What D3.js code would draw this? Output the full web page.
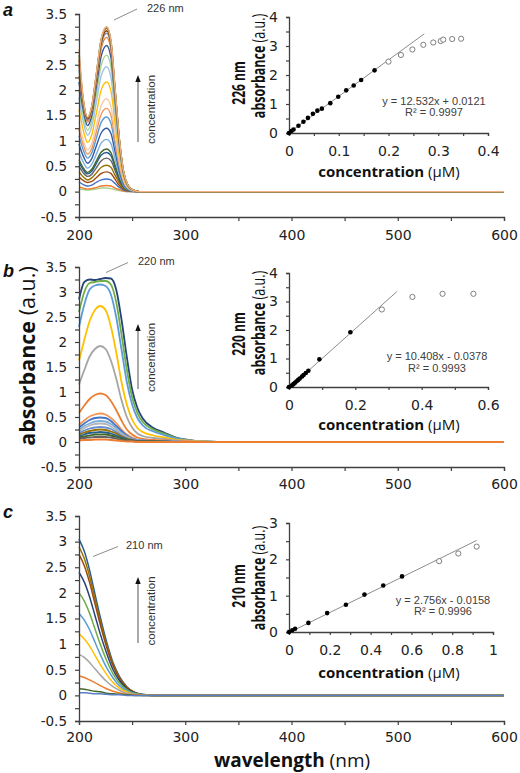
<!DOCTYPE html>
<html>
<head>
<meta charset="utf-8">
<script src="https://cdn.jsdelivr.net/npm/d3@7"></script>
<style>
  body { margin: 0; background: #fff; }
  svg { display: block; }
</style>
</head>
<body>
<svg></svg>
<script>
// ---------- data ----------

// main axes (all three spectra panels)
const wavelengthTicks = [200, 300, 400, 500, 600];
const wavelengthMinor = [250, 350, 450, 550];
const absTicks = [-0.5, 0, 0.5, 1, 1.5, 2, 2.5, 3, 3.5];
const absMinor = [-0.25, 0.25, 0.75, 1.25, 1.75, 2.25, 2.75, 3.25];

// panel a spectra (lowest -> highest concentration)
const wlA = [200, 204, 208, 212, 216, 221, 226, 230, 234, 238, 242, 246, 251, 257, 600];
const spectraA = [
  [0.05, 0.04, 0.03, 0.04, 0.05, 0.07, 0.07, 0.06, 0.04, 0.02, 0.01, 0, 0, 0, 0],
  [0.09, 0.07, 0.05, 0.06, 0.08, 0.11, 0.12, 0.11, 0.07, 0.04, 0.01, 0, 0, 0, 0],
  [0.19, 0.14, 0.11, 0.13, 0.18, 0.23, 0.25, 0.23, 0.16, 0.08, 0.03, 0.01, 0, 0, 0],
  [0.29, 0.22, 0.18, 0.2, 0.27, 0.36, 0.39, 0.36, 0.24, 0.12, 0.05, 0.02, 0, 0, 0],
  [0.39, 0.29, 0.23, 0.27, 0.36, 0.48, 0.52, 0.48, 0.32, 0.17, 0.06, 0.02, 0.01, 0, 0],
  [0.5, 0.37, 0.3, 0.34, 0.46, 0.61, 0.66, 0.61, 0.41, 0.21, 0.08, 0.03, 0.01, 0, 0],
  [0.58, 0.43, 0.35, 0.4, 0.54, 0.72, 0.77, 0.71, 0.48, 0.25, 0.09, 0.03, 0.01, 0, 0],
  [0.63, 0.47, 0.38, 0.44, 0.59, 0.78, 0.84, 0.77, 0.52, 0.27, 0.1, 0.03, 0.01, 0, 0],
  [0.77, 0.58, 0.46, 0.54, 0.72, 0.96, 1.03, 0.95, 0.64, 0.33, 0.12, 0.04, 0.01, 0, 0],
  [0.94, 0.7, 0.56, 0.65, 0.88, 1.16, 1.25, 1.15, 0.78, 0.4, 0.15, 0.05, 0.01, 0, 0],
  [1.1, 0.82, 0.66, 0.76, 1.03, 1.37, 1.47, 1.35, 0.91, 0.47, 0.18, 0.06, 0.01, 0, 0],
  [1.23, 0.92, 0.74, 0.85, 1.15, 1.53, 1.64, 1.51, 1.02, 0.52, 0.2, 0.07, 0.02, 0, 0],
  [1.37, 1.02, 0.82, 0.95, 1.28, 1.7, 1.83, 1.68, 1.13, 0.59, 0.22, 0.07, 0.02, 0, 0],
  [1.62, 1.21, 0.97, 1.12, 1.51, 2.01, 2.16, 1.99, 1.34, 0.69, 0.26, 0.09, 0.02, 0, 0],
  [1.85, 1.38, 1.11, 1.28, 1.72, 2.29, 2.46, 2.26, 1.53, 0.79, 0.3, 0.1, 0.02, 0, 0],
  [2.02, 1.51, 1.21, 1.4, 1.88, 2.5, 2.69, 2.47, 1.67, 0.86, 0.32, 0.11, 0.03, 0, 0],
  [2.16, 1.61, 1.3, 1.5, 2.02, 2.68, 2.88, 2.65, 1.79, 0.92, 0.35, 0.12, 0.03, 0, 0],
  [2.28, 1.7, 1.37, 1.58, 2.13, 2.83, 3.04, 2.8, 1.88, 0.97, 0.36, 0.12, 0.03, 0, 0],
  [2.4, 1.75, 1.4, 1.62, 2.18, 2.9, 3.12, 2.87, 1.93, 1.0, 0.37, 0.12, 0.03, 0, 0],
  [2.5, 1.78, 1.43, 1.65, 2.22, 2.95, 3.17, 2.92, 1.97, 1.01, 0.38, 0.13, 0.03, 0, 0],
  [2.6, 1.8, 1.45, 1.67, 2.25, 3.0, 3.22, 2.96, 2.0, 1.03, 0.39, 0.13, 0.03, 0, 0],
  [2.7, 1.82, 1.46, 1.68, 2.27, 3.01, 3.24, 2.98, 2.01, 1.04, 0.39, 0.13, 0.03, 0, 0],
  [2.8, 1.84, 1.47, 1.69, 2.28, 3.02, 3.25, 2.99, 2.02, 1.04, 0.39, 0.13, 0.03, 0, 0]
];
const colorsA = ["#A9D18E", "#ED7D31", "#4472C4", "#9E480E", "#997300", "#636363",
  "#255E91", "#43682B", "#7CAFDD", "#335AA1", "#5B9BD5", "#F1975A", "#F8CBAD",
  "#FFC000", "#9DC3E6", "#A9D18E", "#2F5597", "#ED7D31", "#8497B0", "#843C0C",
  "#C55A11", "#548235", "#F4B183"];

// panel b spectra (lowest -> highest)
const wlB = [200, 205, 210, 215, 220, 225, 230, 235, 240, 245, 250, 255, 260, 270, 280, 290, 300, 315, 330, 600];
const spectraB = [
  [0.03, 0.04, 0.04, 0.05, 0.05, 0.05, 0.04, 0.03, 0.02, 0.01, 0.01, 0, 0, 0, 0, 0, 0, 0, 0, 0],
  [0.06, 0.08, 0.09, 0.1, 0.1, 0.1, 0.09, 0.07, 0.04, 0.03, 0.02, 0.01, 0.01, 0, 0, 0, 0, 0, 0, 0],
  [0.09, 0.11, 0.13, 0.15, 0.15, 0.15, 0.13, 0.1, 0.07, 0.04, 0.02, 0.01, 0.01, 0.01, 0, 0, 0, 0, 0, 0],
  [0.12, 0.15, 0.18, 0.19, 0.2, 0.19, 0.17, 0.13, 0.09, 0.05, 0.03, 0.02, 0.01, 0.01, 0.01, 0, 0, 0, 0, 0],
  [0.15, 0.19, 0.22, 0.24, 0.25, 0.24, 0.21, 0.17, 0.11, 0.07, 0.04, 0.02, 0.02, 0.01, 0.01, 0, 0, 0, 0, 0],
  [0.18, 0.23, 0.27, 0.29, 0.3, 0.29, 0.26, 0.2, 0.13, 0.08, 0.05, 0.03, 0.02, 0.01, 0.01, 0.01, 0, 0, 0, 0],
  [0.22, 0.28, 0.33, 0.36, 0.37, 0.36, 0.31, 0.24, 0.16, 0.1, 0.06, 0.03, 0.02, 0.01, 0.01, 0.01, 0, 0, 0, 0],
  [0.25, 0.32, 0.37, 0.41, 0.42, 0.41, 0.36, 0.28, 0.18, 0.11, 0.06, 0.04, 0.03, 0.02, 0.01, 0.01, 0, 0, 0, 0],
  [0.29, 0.37, 0.44, 0.48, 0.49, 0.48, 0.42, 0.32, 0.22, 0.13, 0.07, 0.04, 0.03, 0.02, 0.01, 0.01, 0, 0, 0, 0],
  [0.34, 0.43, 0.51, 0.55, 0.57, 0.55, 0.48, 0.38, 0.25, 0.15, 0.09, 0.05, 0.03, 0.02, 0.02, 0.01, 0.01, 0, 0, 0],
  [0.58, 0.73, 0.86, 0.94, 0.97, 0.94, 0.82, 0.64, 0.43, 0.25, 0.15, 0.09, 0.06, 0.04, 0.03, 0.02, 0.01, 0, 0, 0],
  [1.15, 1.44, 1.71, 1.86, 1.92, 1.86, 1.63, 1.27, 0.84, 0.5, 0.29, 0.17, 0.12, 0.08, 0.06, 0.03, 0.02, 0.01, 0, 0],
  [1.63, 2.04, 2.42, 2.64, 2.72, 2.64, 2.31, 1.8, 1.2, 0.75, 0.45, 0.28, 0.2, 0.13, 0.09, 0.05, 0.03, 0.01, 0, 0],
  [2.3, 2.75, 3.05, 3.13, 3.15, 3.12, 2.95, 2.5, 1.85, 1.2, 0.75, 0.48, 0.33, 0.21, 0.14, 0.08, 0.04, 0.01, 0, 0],
  [2.6, 3.0, 3.18, 3.2, 3.22, 3.22, 3.15, 2.8, 2.15, 1.45, 0.9, 0.58, 0.4, 0.25, 0.17, 0.09, 0.04, 0.01, 0, 0],
  [2.85, 3.2, 3.25, 3.24, 3.26, 3.28, 3.27, 3.05, 2.45, 1.7, 1.05, 0.68, 0.47, 0.28, 0.19, 0.1, 0.05, 0.01, 0, 0]
];
const colorsB = ["#ED7D31", "#636363", "#43682B", "#255E91", "#997300", "#698ED0",
  "#B7B7B7", "#7CAFDD", "#4472C4", "#F1975A", "#ED7D31", "#A5A5A5", "#FFC000",
  "#5B9BD5", "#70AD47", "#264478"];

// panel c spectra (lowest -> highest)
const wlC = [200, 205, 210, 215, 220, 226, 232, 238, 245, 252, 260, 270, 600];
const spectraC = [
  [0.05, 0.05, 0.04, 0.03, 0.03, 0.02, 0.01, 0.01, 0, 0, 0, 0, 0],
  [0.13, 0.12, 0.1, 0.08, 0.07, 0.04, 0.03, 0.02, 0.01, 0, 0, 0, 0],
  [0.38, 0.35, 0.3, 0.25, 0.19, 0.13, 0.08, 0.05, 0.02, 0.01, 0, 0, 0],
  [0.8, 0.74, 0.64, 0.52, 0.4, 0.27, 0.17, 0.1, 0.04, 0.02, 0, 0, 0],
  [1.2, 1.1, 0.96, 0.78, 0.6, 0.41, 0.25, 0.14, 0.07, 0.02, 0.01, 0, 0],
  [1.6, 1.47, 1.28, 1.04, 0.8, 0.54, 0.34, 0.19, 0.09, 0.03, 0.01, 0, 0],
  [2.0, 1.84, 1.6, 1.3, 1.0, 0.68, 0.42, 0.24, 0.11, 0.04, 0.01, 0, 0],
  [2.4, 2.21, 1.92, 1.56, 1.2, 0.82, 0.5, 0.29, 0.13, 0.05, 0.01, 0, 0],
  [2.75, 2.53, 2.2, 1.79, 1.38, 0.94, 0.58, 0.33, 0.15, 0.06, 0.01, 0, 0],
  [2.9, 2.67, 2.32, 1.89, 1.45, 0.99, 0.61, 0.35, 0.16, 0.06, 0.01, 0, 0],
  [3.05, 2.81, 2.44, 1.98, 1.53, 1.04, 0.64, 0.37, 0.17, 0.06, 0.02, 0, 0]
];
const colorsC = ["#5B7FC4", "#43682B", "#ED7D31", "#A5A5A5", "#FFC000", "#5B9BD5",
  "#70AD47", "#264478", "#9E480E", "#997300", "#255E91"];

// inset a: absorbance at 226 nm vs concentration
const concA = [0, 0.005, 0.009, 0.019, 0.029, 0.038, 0.048, 0.057, 0.066, 0.083, 0.099, 0.115, 0.13, 0.145, 0.172];
const absA = [0, 0.07, 0.12, 0.25, 0.39, 0.52, 0.66, 0.77, 0.84, 1.03, 1.25, 1.47, 1.64, 1.83, 2.16];
const concAOpen = [0.2, 0.225, 0.248, 0.27, 0.29, 0.305, 0.31, 0.328, 0.346];
const absAOpen = [2.46, 2.69, 2.88, 3.04, 3.12, 3.17, 3.22, 3.24, 3.25];
const fitA = [12.532, 0.0121, 0.272]; // slope, intercept, end of trendline

// inset b: absorbance at 220 nm
const concB = [0, 0.0085, 0.0133, 0.0181, 0.0229, 0.0277, 0.0325, 0.0392, 0.044, 0.0507, 0.0584, 0.0916, 0.185];
const absB = [0, 0.05, 0.1, 0.15, 0.2, 0.25, 0.3, 0.37, 0.42, 0.49, 0.57, 0.97, 1.92];
const concBOpen = [0.28, 0.372, 0.463, 0.556];
const absBOpen = [2.72, 3.16, 3.27, 3.27];
const fitB = [10.408, -0.0378, 0.325];

// inset c: absorbance at 210 nm
const concC = [0, 0.016, 0.03, 0.095, 0.187, 0.279, 0.37, 0.462, 0.554];
const absC = [0, 0.05, 0.09, 0.25, 0.52, 0.75, 1.03, 1.28, 1.53];
const concCOpen = [0.736, 0.83, 0.92];
const absCOpen = [1.95, 2.16, 2.35];
const fitC = [2.756, -0.0158, 0.92];

// inset tick values
const insetXTicksA = [0, 0.1, 0.2, 0.3, 0.4];
const insetXMinorA = [0.05, 0.15, 0.25, 0.35];
const insetXTicksB = [0, 0.2, 0.4, 0.6];
const insetXMinorB = [0.1, 0.3, 0.5];
const insetXTicksC = [0, 0.2, 0.4, 0.6, 0.8, 1];
const insetXMinorC = [0.1, 0.3, 0.5, 0.7, 0.9];
const insetYTicks4 = [0, 1, 2, 3, 4];
const insetYMinor4 = [0.5, 1.5, 2.5, 3.5];
const insetYTicks3 = [0, 1, 2, 3];
const insetYMinor3 = [0.5, 1.5, 2.5];

const equations = [
  ["y = 12.532x + 0.0121", "R² = 0.9997"],
  ["y = 10.408x - 0.0378", "R² = 0.9993"],
  ["y = 2.756x - 0.0158", "R² = 0.9996"]
];

// ---------- drawing ----------
const svg = d3.select("svg")
  .attr("width", 520)
  .attr("height", 773);
svg.append("rect").attr("width", 520).attr("height", 773).attr("fill", "#fff");

const axisColor = "#404040";
const tickFont = "DejaVu Sans";
const labelFont = "'Open Sans', sans-serif";

// draw an x/y axis pair with major + minor ticks
function drawAxes(g, xs, ys, opt) {
  const bottom = ys.range()[0];
  const left = xs.range()[0];

  const xg = g.append("g").attr("transform", `translate(0,${bottom})`)
    .call(d3.axisBottom(xs).tickValues(opt.xMajor).tickSizeOuter(0)
      .tickSize(opt.tick).tickPadding(opt.xPad).tickFormat(d => String(d)));
  g.append("g").attr("transform", `translate(0,${bottom})`)
    .call(d3.axisBottom(xs).tickValues(opt.xMinor).tickSize(opt.tick).tickFormat(""))
    .select(".domain").remove();

  const yg = g.append("g").attr("transform", `translate(${left},0)`)
    .call(d3.axisLeft(ys).tickValues(opt.yMajor).tickSizeOuter(0)
      .tickSize(opt.tick).tickPadding(opt.yPad).tickFormat(d => String(d)));
  g.append("g").attr("transform", `translate(${left},0)`)
    .call(d3.axisLeft(ys).tickValues(opt.yMinor).tickSize(opt.tick).tickFormat(""))
    .select(".domain").remove();

  g.selectAll(".domain").attr("stroke", axisColor).attr("stroke-width", 1.3);
  g.selectAll(".tick line").attr("stroke", axisColor).attr("stroke-width", 1.2);
  xg.selectAll("text").attr("font-family", tickFont).attr("font-size", opt.xFont).attr("fill", "#222");
  yg.selectAll("text").attr("font-family", tickFont).attr("font-size", opt.yFont).attr("fill", "#222");
}

const x = d3.scaleLinear().domain([200, 600]).range([79, 504]);

const panels = [
  { letter: "a", top: 14, bottom: 217, wl: wlA, spectra: spectraA, colors: colorsA, lowFirst: true, lw: 1.4, xPad: 9,
    peak: "226 nm", peakText: [147, 11.5], leader: [114, 20, 137, 9], arrow: [75, 142], letterY: 16 },
  { letter: "b", top: 267, bottom: 467, wl: wlB, spectra: spectraB, colors: colorsB, lowFirst: false, lw: 1.8, xPad: 8,
    peak: "220 nm", peakText: [138, 265], leader: [106, 272.5, 128, 262.5], arrow: [324, 389], letterY: 277 },
  { letter: "c", top: 516, bottom: 721, wl: wlC, spectra: spectraC, colors: colorsC, lowFirst: false, lw: 1.5, xPad: 7,
    peak: "210 nm", peakText: [126, 549], leader: [93, 556.5, 118, 546.5], arrow: [577, 643], letterY: 518 }
];

panels.forEach(p => {
  const g = svg.append("g");
  const y = d3.scaleLinear().domain([-0.5, 3.5]).range([p.bottom, p.top]);

  // spectra
  const line = d3.line()
    .x((d, i) => x(p.wl[i]))
    .y(d => y(d))
    .curve(d3.curveMonotoneX);
  let idx = p.spectra.map((s, i) => i);
  if (!p.lowFirst) idx = idx.reverse();
  g.append("g").selectAll("path")
    .data(idx)
    .join("path")
    .attr("d", i => line(p.spectra[i]))
    .attr("fill", "none")
    .attr("stroke", i => p.colors[i])
    .attr("stroke-width", p.lw)
    .attr("stroke-linejoin", "round");

  drawAxes(g, x, y, {
    xMajor: wavelengthTicks, xMinor: wavelengthMinor,
    yMajor: absTicks, yMinor: absMinor,
    tick: 4, xPad: p.xPad, yPad: 8, xFont: 14, yFont: 13.5
  });

  // peak annotation
  g.append("line")
    .attr("x1", p.leader[0]).attr("y1", p.leader[1])
    .attr("x2", p.leader[2]).attr("y2", p.leader[3])
    .attr("stroke", "#8c8c8c").attr("stroke-width", 1);
  g.append("text")
    .attr("x", p.peakText[0]).attr("y", p.peakText[1])
    .attr("font-family", "Liberation Sans").attr("font-size", 11).attr("fill", "#333")
    .text(p.peak);

  // concentration arrow
  g.append("line")
    .attr("x1", 138).attr("x2", 138)
    .attr("y1", p.arrow[0] + 5).attr("y2", p.arrow[1])
    .attr("stroke", "#555").attr("stroke-width", 1);
  g.append("path")
    .attr("d", `M138,${p.arrow[0]} L135.3,${p.arrow[0] + 7} L140.7,${p.arrow[0] + 7} Z`)
    .attr("fill", "#111");
  g.append("text")
    .attr("transform", `translate(155,${(p.arrow[0] + p.arrow[1]) / 2 + 1}) rotate(-90)`)
    .attr("text-anchor", "middle")
    .attr("font-family", "Liberation Sans").attr("font-size", 11.5).attr("fill", "#333")
    .text("concentration");

  // panel letter
  g.append("text")
    .attr("x", 3).attr("y", p.letterY)
    .attr("font-family", "Liberation Sans").attr("font-weight", 700).attr("font-style", "italic")
    .attr("font-size", 18).attr("fill", "#111")
    .text(p.letter);
});

// ---------- insets ----------
const insets = [
  { xMax: 0.4, yMax: 4, xr: [289, 488], yr: [133, 17], conc: concA, abs: absA, concO: concAOpen, absO: absAOpen,
    fit: fitA, xt: insetXTicksA, xm: insetXMinorA, yt: insetYTicks4, ym: insetYMinor4, nm: "226 nm",
    nmY: 83, labY: 66, eqX: 434, eqY: 104.5, xlabY: 176.5, eq: equations[0] },
  { xMax: 0.6, yMax: 4, xr: [289, 488], yr: [387, 273], conc: concB, abs: absB, concO: concBOpen, absO: absBOpen,
    fit: fitB, xt: insetXTicksB, xm: insetXMinorB, yt: insetYTicks4, ym: insetYMinor4, nm: "220 nm",
    nmY: 334, labY: 323, eqX: 437, eqY: 360, xlabY: 430, eq: equations[1] },
  { xMax: 1, yMax: 3, xr: [289, 493], yr: [632, 523], conc: concC, abs: absC, concO: concCOpen, absO: absCOpen,
    fit: fitC, xt: insetXTicksC, xm: insetXMinorC, yt: insetYTicks3, ym: insetYMinor3, nm: "210 nm",
    nmY: 586, labY: 578, eqX: 443, eqY: 603.5, xlabY: 678, eq: equations[2] }
];

insets.forEach(s => {
  const g = svg.append("g");
  const xs = d3.scaleLinear().domain([0, s.xMax]).range(s.xr);
  const ys = d3.scaleLinear().domain([0, s.yMax]).range(s.yr);

  // linear trendline
  g.append("line")
    .attr("x1", xs(0)).attr("y1", ys(s.fit[1]))
    .attr("x2", xs(s.fit[2])).attr("y2", ys(s.fit[0] * s.fit[2] + s.fit[1]))
    .attr("stroke", "#8c8c8c").attr("stroke-width", 1);

  drawAxes(g, xs, ys, {
    xMajor: s.xt, xMinor: s.xm, yMajor: s.yt, yMinor: s.ym,
    tick: 3, xPad: 10, yPad: 8, xFont: 14, yFont: 14
  });

  // points used for the fit (filled) and saturated points (open)
  g.append("g").selectAll("circle")
    .data(s.conc)
    .join("circle")
    .attr("cx", d => xs(d))
    .attr("cy", (d, i) => ys(s.abs[i]))
    .attr("r", 2.3)
    .attr("fill", "#000");
  g.append("g").selectAll("circle")
    .data(s.concO)
    .join("circle")
    .attr("cx", d => xs(d))
    .attr("cy", (d, i) => ys(s.absO[i]))
    .attr("r", 2.6)
    .attr("fill", "#fff")
    .attr("stroke", "#7f7f7f")
    .attr("stroke-width", 1);

  // equation
  s.eq.forEach((t, i) => {
    g.append("text")
      .attr("x", s.eqX).attr("y", s.eqY + i * 11.8)
      .attr("text-anchor", "middle")
      .attr("font-family", "Liberation Sans").attr("font-size", 11).attr("fill", "#404040")
      .text(t);
  });

  // axis titles
  const xl = g.append("text")
    .attr("x", 389).attr("y", s.xlabY)
    .attr("text-anchor", "middle")
    .attr("font-family", labelFont).attr("font-size", 15).attr("fill", "#111");
  xl.append("tspan").attr("font-weight", 700).text("concentration");
  xl.append("tspan").text(" (µM)");

  g.append("text")
    .attr("transform", `translate(245,${s.nmY}) rotate(-90) scale(1,1.45)`)
    .attr("text-anchor", "middle")
    .attr("font-family", labelFont).attr("font-weight", 700)
    .attr("font-size", 12).attr("fill", "#111")
    .text(s.nm);
  const yl = g.append("text")
    .attr("transform", `translate(265,${s.labY}) rotate(-90) scale(1,1.45)`)
    .attr("text-anchor", "middle")
    .attr("font-family", labelFont).attr("font-size", 12.5).attr("fill", "#111");
  yl.append("tspan").attr("font-weight", 700).text("absorbance");
  yl.append("tspan").text(" (a.u.)");
});

// shared axis titles
const absTitle = svg.append("text")
  .attr("transform", "translate(35,356) rotate(-90)")
  .attr("text-anchor", "middle")
  .attr("font-family", labelFont).attr("font-size", 21.5).attr("fill", "#111");
absTitle.append("tspan").attr("font-weight", 700).text("absorbance");
absTitle.append("tspan").text(" (a.u.)");

const wlTitle = svg.append("text")
  .attr("x", 292).attr("y", 767)
  .attr("text-anchor", "middle")
  .attr("font-family", labelFont).attr("font-size", 19).attr("fill", "#111");
wlTitle.append("tspan").attr("font-weight", 700).text("wavelength");
wlTitle.append("tspan").text(" (nm)");
</script>
</body>
</html>
